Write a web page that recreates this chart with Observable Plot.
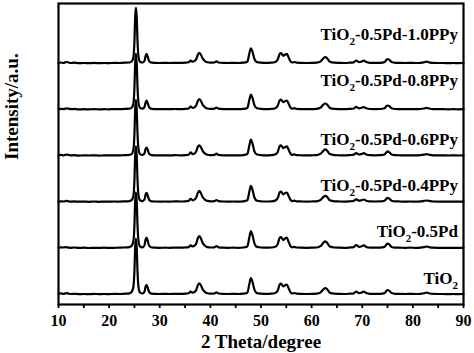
<!DOCTYPE html>
<html>
<head>
<meta charset="utf-8">
<script src="https://cdn.jsdelivr.net/npm/d3@7"></script>
<script src="https://cdn.jsdelivr.net/npm/@observablehq/plot@0.6"></script>
<style>
  html, body { margin: 0; padding: 0; background: #fff; }
</style>
</head>
<body>
<div id="chart"></div>
<script>
// 2θ sample positions (degrees)
const twoTheta = [
  10, 10.5, 11, 11.5, 12, 12.5, 13, 14, 15, 16, 17, 18, 19, 20, 21, 22, 23, 24,
  24.5, 24.8, 25.0, 25.15, 25.3, 25.45, 25.6, 25.8, 26.1,
  26.6, 27.0, 27.2, 27.4, 27.6, 27.9, 28.4,
  29, 30, 31, 32, 33, 34, 35,
  35.7, 36.1, 36.5, 36.9, 37.2, 37.5, 37.8, 38.1, 38.5, 38.9, 39.4, 40.0,
  40.8, 41.2, 41.6, 42.5, 43.5, 44.5, 45.5, 46.5,
  47.3, 47.7, 48.0, 48.3, 48.7, 49.2, 50, 51, 52, 52.8,
  53.3, 53.7, 53.95, 54.4, 54.8, 55.1, 55.4, 55.8, 56.2, 56.6, 57.0, 58,
  59, 60, 61, 61.8, 62.3, 62.7, 63.1, 63.6, 64.5, 65.5, 66.5, 67.5,
  68.3, 68.8, 69.4, 69.8, 70.3, 70.8, 71.5, 72.5, 73.5,
  74.4, 74.8, 75.0, 75.3, 75.8, 76.5, 77.5, 78.5, 79.5, 80.5, 81.5,
  82.2, 82.7, 83.2, 84, 85, 86, 87, 88, 89, 90
];

// Sample names, bottom to top
const samples = [
  "TiO2",
  "TiO2-0.5Pd",
  "TiO2-0.5Pd-0.4PPy",
  "TiO2-0.5Pd-0.6PPy",
  "TiO2-0.5Pd-0.8PPy",
  "TiO2-0.5Pd-1.0PPy"
];

// Intensities (a.u.)
const intTiO2 = [
  8,12,6,14,9,5,7,4,5,3,6,4,5,4,6,5,8,12,
  30,80,240,480,560,470,240,75,20,
  10,30,78,95,72,25,8,
  6,5,6,5,7,6,8,
  12,30,18,26,45,90,112,95,50,26,12,8,
  10,22,10,6,5,6,5,8,
  18,105,165,130,48,14,8,6,8,15,
  40,100,108,80,95,100,70,24,10,15,8,6,
  5,6,8,22,50,65,50,18,8,6,5,8,
  12,30,14,18,28,14,7,6,7,
  14,38,45,38,14,7,6,5,6,5,7,
  12,20,12,6,5,5,4,5,4,5
];
const intPd = [
  6,10,8,12,6,5,8,4,6,3,5,4,6,4,5,6,8,12,
  28,75,230,475,560,470,240,75,20,
  10,32,88,108,80,26,8,
  6,5,6,5,7,6,8,
  12,30,18,28,48,98,122,102,52,28,12,8,
  10,22,10,6,5,6,5,8,
  18,110,172,135,50,14,8,6,8,15,
  42,105,112,82,100,106,72,25,10,15,8,6,
  5,6,8,24,55,70,52,18,8,6,5,8,
  12,33,15,18,30,14,7,6,7,
  14,40,48,40,14,7,6,5,6,5,7,
  12,18,12,6,5,5,4,5,4,5
];
const int04 = [
  5,8,6,12,8,4,7,4,5,3,6,3,5,4,6,5,7,10,
  22,65,220,470,560,465,235,70,18,
  10,28,75,92,70,24,8,
  6,5,6,5,7,6,8,
  12,32,18,26,45,90,112,92,48,25,12,8,
  10,20,10,6,5,6,5,8,
  18,105,162,128,46,14,8,6,8,15,
  40,98,105,78,92,96,68,24,10,14,8,6,
  5,6,8,22,50,62,50,18,8,6,5,8,
  12,28,14,18,26,14,7,6,7,
  14,36,42,36,14,7,6,5,6,5,7,
  12,16,12,6,5,5,4,5,4,5
];
const int06 = [
  6,10,5,12,10,5,7,3,5,4,6,3,5,5,6,5,8,10,
  22,65,220,470,560,465,235,70,18,
  10,26,70,84,65,22,8,
  6,5,6,5,7,6,8,
  12,35,18,26,44,88,106,90,48,25,12,8,
  10,22,10,6,5,6,5,8,
  18,105,162,128,46,14,8,6,8,15,
  40,98,105,78,90,96,68,24,10,15,8,6,
  5,6,8,22,50,65,50,18,8,6,5,8,
  12,28,14,18,27,14,7,6,7,
  14,38,45,38,14,7,6,5,6,5,7,
  12,17,12,6,5,5,4,5,4,5
];
const int08 = [
  5,9,6,14,10,5,8,3,5,3,6,3,5,4,6,5,8,10,
  22,65,220,470,560,465,235,70,18,
  10,28,72,90,68,24,8,
  6,5,6,5,7,6,8,
  12,30,18,26,42,85,106,90,48,25,12,8,
  10,22,10,6,5,6,5,8,
  18,100,152,122,45,14,8,6,8,15,
  40,94,100,75,88,92,66,24,10,15,8,6,
  5,6,8,22,50,62,50,18,8,6,5,8,
  12,28,14,18,26,14,7,6,7,
  14,38,42,38,14,7,6,5,6,5,7,
  12,18,12,6,5,5,4,5,4,5
];
const int10 = [
  5,10,5,15,10,5,8,3,5,3,6,3,5,4,6,5,8,10,
  22,65,220,470,560,465,235,70,18,
  10,28,75,96,70,24,8,
  6,5,6,5,7,6,8,
  12,30,18,26,42,85,106,90,48,25,12,8,
  10,22,10,6,5,6,5,8,
  18,100,152,122,45,14,8,6,8,15,
  40,96,105,78,90,96,68,24,10,15,8,6,
  5,6,8,22,50,65,50,18,8,6,5,8,
  12,30,14,18,28,14,7,6,7,
  14,38,45,38,14,7,6,5,6,5,7,
  12,18,12,6,5,5,4,5,4,5
];

const intensities = [intTiO2, intPd, int04, int06, int08, int10];
const xTicks = [10, 20, 30, 40, 50, 60, 70, 80, 90];
const xMinorTicks = [15, 25, 35, 45, 55, 65, 75, 85];

// vertical stacking step between traces (a.u.)
const STEP = 462;

const rows = [];
samples.forEach((s, i) => {
  intensities[i].forEach((v, j) => {
    rows.push({sample: s, x: twoTheta[j], y: v + i * STEP});
  });
});

const labelRows = samples.map((s, i) => ({name: s, i}));

const font = "'Liberation Serif', 'Times New Roman', 'DejaVu Serif', serif";

const chart = Plot.plot({
  width: 474,
  height: 353,
  marginLeft: 58,
  marginRight: 11,
  marginTop: 3,
  marginBottom: 49,
  style: {fontFamily: font, fontWeight: "bold", fontSize: "16px", background: "#fff", color: "#000"},
  x: {domain: [10, 90]},
  y: {domain: [-100, 2910], axis: null},
  marks: [
    Plot.lineY(rows, {x: "x", y: "y", z: "sample", stroke: "#000", strokeWidth: 2.2, curve: "monotone-x"}),
    Plot.axisX({ticks: xTicks, tickSize: 4, tickPadding: 6, strokeWidth: 1.8, label: null, fontSize: 16}),
    Plot.axisX({ticks: xMinorTicks, tickSize: 4, strokeWidth: 1.8, text: null, label: null}),
    Plot.frame({stroke: "#000", strokeWidth: 2.2}),
    Plot.text(labelRows, {
      x: () => 88.9,
      y: d => d.i * STEP + (d.i >= 4 ? 235 : 110),
      text: "name",
      textAnchor: "end",
      lineAnchor: "bottom",
      fontSize: 17
    }),
    Plot.text(["2 Theta/degree"], {frameAnchor: "bottom", dy: 43, lineAnchor: "bottom", fontSize: 19}),
    Plot.text(["Intensity/a.u."], {frameAnchor: "left", dx: -47, dy: 6, rotate: -90, fontSize: 19})
  ]
});

// subscript the "2" in TiO2
d3.select(chart).selectAll("text").filter(function() {
  return this.textContent.startsWith("TiO2");
}).each(function() {
  const t = d3.select(this);
  const full = this.textContent;
  const rest = full.slice(4);
  t.text(null);
  t.append("tspan").text("TiO");
  t.append("tspan").attr("dy", 5).attr("font-size", 11).text("2");
  if (rest) t.append("tspan").attr("dy", -5).text(rest);
});

document.getElementById("chart").appendChild(chart);
</script>
</body>
</html>
